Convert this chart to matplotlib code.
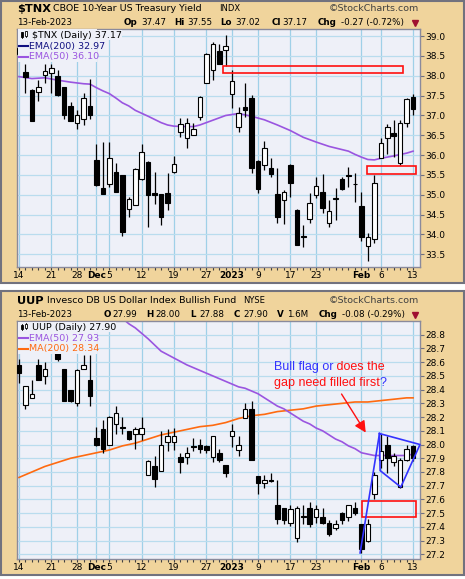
import numpy as np
import matplotlib
matplotlib.use("Agg")
import matplotlib.pyplot as plt
from matplotlib.patches import Rectangle
from matplotlib.lines import Line2D

# --- data (trading-day index 0 = 14 Nov 2022) ---
TICK_POS = [0, 5, 9, 12, 14, 19, 24, 29, 33, 37, 42, 46, 53, 56, 61]
TICK_LABELS = ['14', '21', '28', 'Dec', '5', '12', '19', '27', '2023', '9', '17', '23', 'Feb', '6', '13']
BOLD_TICKS = ['Dec', '2023', 'Feb']

# $TNX daily OHLC (x10 yield)
tnx_open = [38.55, 38.10, 37.64, 37.58, 38.01, 38.08, 37.99, 37.71, 37.24, 36.80,
            36.90, 37.24, 35.89, 35.16, 35.27, 35.57, 35.49, 34.63, 34.75, 35.39,
            35.83, 35.04, 35.02, 35.04, 35.57, 36.59, 36.42, 36.51, 36.95, 37.83,
            38.14, 38.63, 38.65, 37.54, 36.72, 37.22, 37.43, 35.85, 35.75, 35.67,
            35.02, 34.87, 35.75, 34.62, 33.95, 34.38, 34.99, 35.08, 34.30, 34.89,
            35.41, 35.48, 35.27, 34.72, 33.71, 33.88, 35.94, 36.42, 36.55, 35.81,
            36.82, 37.47]
tnx_high = [38.80, 38.31, 37.66, 37.89, 38.31, 38.31, 38.14, 37.72, 37.35, 37.14,
            37.56, 37.93, 36.28, 36.34, 36.34, 35.79, 35.50, 34.95, 35.67, 36.28,
            35.84, 35.57, 35.03, 35.54, 35.98, 36.93, 36.93, 36.80, 37.50, 38.57,
            38.86, 38.80, 39.03, 38.14, 37.22, 37.81, 37.51, 35.88, 36.36, 35.92,
            35.67, 35.12, 35.78, 34.63, 34.24, 35.04, 35.46, 35.52, 34.87, 35.16,
            35.46, 35.69, 35.54, 35.08, 34.03, 35.50, 36.42, 36.78, 36.88, 36.88,
            37.43, 37.55]
tnx_low = [38.45, 37.56, 36.85, 37.37, 37.81, 37.57, 37.50, 36.90, 36.86, 36.65,
           36.76, 36.90, 35.22, 35.01, 35.20, 35.07, 33.97, 34.45, 34.74, 35.38,
           34.20, 34.77, 34.24, 34.62, 35.56, 36.46, 36.17, 36.50, 36.88, 37.82,
           37.89, 38.30, 38.25, 37.20, 36.59, 36.97, 35.54, 35.04, 35.62, 35.46,
           34.28, 34.26, 34.94, 33.73, 33.69, 34.30, 34.91, 34.55, 34.18, 34.37,
           35.13, 35.20, 34.83, 33.84, 33.32, 33.78, 35.93, 36.03, 35.96, 35.75,
           36.70, 37.02]
tnx_close = [38.70, 37.98, 36.87, 37.71, 38.13, 38.20, 37.51, 37.01, 36.87, 37.00,
             37.43, 37.00, 35.25, 35.02, 35.94, 35.08, 34.05, 34.89, 35.65, 36.07,
             34.99, 34.99, 34.45, 34.79, 35.77, 36.78, 36.80, 36.65, 37.47, 38.56,
             38.80, 38.31, 38.75, 37.87, 37.05, 37.15, 35.67, 35.14, 36.17, 35.52,
             34.45, 35.08, 35.31, 33.74, 33.94, 34.80, 35.22, 34.66, 34.58, 34.90,
             35.14, 35.47, 35.26, 33.93, 33.93, 35.31, 36.30, 36.70, 36.48, 36.80,
             37.41, 37.17]
tnx_ema50_x = [0, 2, 4, 6, 8, 10, 11, 12, 13, 14, 15, 16, 17, 18, 20, 22, 23, 24, 26,
               27, 28, 30, 32, 34, 36, 38, 40, 42, 44, 46, 48, 50, 51, 52, 53, 54,
               55, 56, 58, 60, 61]
tnx_ema50 = [37.98, 37.93, 37.95, 37.89, 37.84, 37.80, 37.79, 37.70, 37.62, 37.55,
             37.44, 37.32, 37.24, 37.13, 36.98, 36.82, 36.76, 36.73, 36.72, 36.72,
             36.76, 36.88, 37.00, 37.05, 36.98, 36.89, 36.76, 36.62, 36.45, 36.33,
             36.22, 36.14, 36.10, 36.02, 35.95, 35.89, 35.88, 35.92, 35.98, 36.05,
             36.10]

# UUP daily OHLC
uup_open = [28.58, 28.29, 28.34, 28.58, 28.50, 28.80, 28.70, 28.55, 28.40, 28.30,
            28.55, 28.47, 28.05, 28.11, 28.00, 28.15, 28.13, 28.10, 28.08, 28.08,
            27.78, 27.84, 27.81, 28.02, 28.02, 27.91, 27.91, 27.99, 28.00, 27.99,
            27.91, 27.94, 27.85, 28.06, 27.96, 28.19, 28.26, 27.77, 27.72, 27.745,
            27.56, 27.54, 27.43, 27.32, 27.48, 27.54, 27.47, 27.475, 27.43, 27.39,
            27.50, 27.47, 27.535, 27.42, 27.30, 27.64, 27.89, 28.00, 27.875, 27.69,
            27.89, 27.99]
uup_high = [28.62, 28.43, 28.47, 28.62, 28.60, 28.85, 28.72, 28.55, 28.40, 28.55,
            28.65, 28.65, 28.13, 28.18, 28.21, 28.28, 28.20, 28.10, 28.13, 28.20,
            27.89, 27.92, 28.10, 28.11, 28.12, 27.94, 27.98, 28.05, 28.04, 28.00,
            28.06, 27.97, 27.85, 28.15, 28.06, 28.30, 28.32, 27.77, 27.78, 27.79,
            27.74, 27.54, 27.56, 27.55, 27.56, 27.58, 27.56, 27.54, 27.45, 27.45,
            27.51, 27.56, 27.58, 27.42, 27.46, 27.80, 28.08, 28.06, 27.94, 27.90,
            28.00, 28.00]
uup_low = [28.45, 28.26, 28.34, 28.47, 28.44, 28.70, 28.61, 28.32, 28.31, 28.28,
           28.55, 28.28, 27.99, 27.94, 28.00, 28.08, 28.08, 28.03, 27.97, 28.03,
           27.78, 27.69, 27.81, 27.95, 27.96, 27.79, 27.86, 27.95, 27.94, 27.94,
           27.87, 27.87, 27.76, 27.98, 27.92, 28.19, 27.89, 27.64, 27.68, 27.73,
           27.42, 27.42, 27.41, 27.29, 27.42, 27.40, 27.43, 27.42, 27.33, 27.38,
           27.42, 27.44, 27.49, 27.21, 27.29, 27.60, 27.83, 27.79, 27.84, 27.68,
           27.88, 27.88]
uup_close = [28.52, 28.43, 28.37, 28.47, 28.55, 28.72, 28.62, 28.32, 28.32, 28.54,
             28.58, 28.35, 28.00, 27.97, 28.20, 28.23, 28.12, 28.04, 28.11, 28.12,
             27.88, 27.75, 28.00, 28.06, 28.06, 27.87, 27.94, 27.98, 27.97, 27.96,
             28.06, 27.89, 27.79, 28.10, 28.00, 28.26, 27.89, 27.72, 27.74, 27.735,
             27.46, 27.45, 27.53, 27.535, 27.47, 27.42, 27.53, 27.43, 27.35, 27.42,
             27.45, 27.56, 27.50, 27.24, 27.42, 27.78, 27.95, 27.90, 27.92, 27.89,
             27.97, 27.90]
uup_ma200_x = [0, 2, 4, 6, 8, 10, 12, 14, 16, 18, 20, 22, 24, 26, 28, 30, 32, 34, 36,
               38, 40, 42, 44, 46, 48, 50, 52, 54, 56, 58, 60, 61]
uup_ma200 = [27.76, 27.80, 27.84, 27.87, 27.90, 27.92, 27.94, 27.96, 27.99, 28.01,
             28.04, 28.07, 28.09, 28.11, 28.13, 28.14, 28.16, 28.19, 28.21, 28.22,
             28.24, 28.25, 28.26, 28.28, 28.29, 28.30, 28.31, 28.31, 28.32, 28.33,
             28.34, 28.34]
uup_ema50_x = [0, 5, 10, 15, 16, 17, 18, 19, 20, 22, 24, 26, 28, 30, 32, 34, 35, 36,
               37, 38, 39, 40, 41, 42, 43, 44, 45, 46, 47, 48, 49, 50, 51, 52, 53,
               54, 55, 56, 58, 60, 61]
uup_ema50 = [29.30, 29.20, 29.06, 28.95, 28.92, 28.88, 28.85, 28.81, 28.77, 28.68,
             28.63, 28.58, 28.54, 28.50, 28.46, 28.42, 28.41, 28.39, 28.37, 28.34,
             28.31, 28.28, 28.26, 28.23, 28.20, 28.17, 28.15, 28.12, 28.10, 28.07,
             28.04, 28.02, 27.99, 27.97, 27.94, 27.93, 27.92, 27.92, 27.92, 27.92,
             27.93]

# hand-drawn annotations (x in trading-day index, y in price)
tnx_boxes = [(31.6, 59.5, 38.06, 38.24), (53.8, 61.4, 35.52, 35.73)]
uup_box = (53.1, 61.4, 27.47, 27.59)
flag_pole_x = [52.8, 55.8]
flag_pole_y = [27.21, 28.08]
flag_x = [55.8, 62.07, 59.1, 55.9, 55.8]
flag_y = [28.08, 28.00, 27.69, 27.81, 28.08]
arrow_from = (49.7, 28.385)
arrow_to = (53.9, 28.07)

# --- styling ---
W, H = 465, 579
TAN = '#f0d49c'
BORDER = '#72727e'
PLOT_BG = '#eef0f8'
VGRID = '#9fd0e8'
HGRID = '#b9dcee'
PURPLE = '#9a55e0'
ORANGE = '#ff6a10'
NAVY = '#101080'
RED = '#ff1010'
BLUE = '#3333ff'

plt.rcParams['font.family'] = 'DejaVu Sans'


def fx(x):
    return x / W


def fy(y):
    return 1 - y / H


def candles(ax, o, h, l, c, minh):
    x = np.arange(len(o))
    o, h, l, c = map(np.asarray, (o, h, l, c))
    ax.vlines(x, l, h, color='black', lw=0.9, zorder=3)
    up = c > o
    bottom = np.minimum(o, c)
    height = np.maximum(np.abs(c - o), minh)
    ax.bar(x, height, width=0.7, bottom=bottom, color=np.where(up, 'white', 'black'),
           edgecolor='black', lw=0.8, zorder=4)


def setup_axes(ax, ylo, yhi, yticks):
    ax.set_facecolor(PLOT_BG)
    ax.set_xlim(-0.3, 62.07)
    ax.set_ylim(ylo, yhi)
    for t in TICK_POS:
        ax.axvline(t, color=VGRID, lw=0.9, zorder=1)
    for t in yticks:
        ax.axhline(t, color=HGRID, lw=0.9, zorder=1)
    ax.yaxis.tick_right()
    ax.set_yticks(yticks)
    ax.set_yticklabels([f'{t:.1f}' for t in yticks], fontsize=6.5)
    ax.tick_params(axis='y', length=3, width=0.8, color='#707080', pad=1)
    ax.set_xticks(TICK_POS)
    ax.set_xticklabels(TICK_LABELS, fontsize=6.5)
    for lab in ax.get_xticklabels():
        if lab.get_text() in BOLD_TICKS:
            lab.set_fontweight('bold')
    ax.set_xticks(np.arange(0, 62), minor=True)
    ax.tick_params(axis='x', which='both', length=2, width=0.8, color='#404040', pad=1)
    for s in ax.spines.values():
        s.set_color('#8a8a9c')
        s.set_linewidth(1.0)


sym_name_x = {'$TNX': 53.3, 'UUP': 46.7}
exch_x = {'$TNX': 219.3, 'UUP': 243.3}


def header(fig, y1, y2, sym, name, exch, items):
    fig.text(fx(16.7), fy(y1), sym, fontsize=8.2, fontweight='bold', va='center')
    fig.text(fx(sym_name_x[sym]), fy(y1), name, fontsize=6.8, va='center')
    fig.text(fx(exch_x[sym]), fy(y1), exch, fontsize=6.0, va='center')
    fig.text(fx(419), fy(y1), '\u00a9StockCharts.com', fontsize=6.8, va='center',
             ha='right', color='#404040')
    fig.text(fx(16.7), fy(y2), '13-Feb-2023', fontsize=6.3, va='center')
    for txt, x, bold in items:
        fig.text(fx(x), fy(y2), txt, fontsize=6.3, va='center',
                 fontweight='bold' if bold else 'normal')
    fig.add_artist(Line2D([fx(415)], [fy(y2 + 0.5)], marker='v', ms=4.5,
                          color='#a01030', transform=fig.transFigure))


tnx_items = [('Op', 124, True), ('37.47', 141.7, False), ('Hi', 174, True),
             ('37.55', 187.3, False), ('Lo', 220.7, True), ('37.02', 235, False),
             ('Cl', 271.7, True), ('37.17', 282.7, False), ('Chg', 317.3, True),
             ('-0.27 (-0.72%)', 340.7, False)]
uup_items = [('O', 103.3, True), ('27.99', 112.7, False), ('H', 146.7, True),
             ('28.00', 155, False), ('L', 190, True), ('27.88', 199.3, False),
             ('C', 233.3, True), ('27.90', 243.3, False), ('V', 276.7, True),
             ('1.6M', 286.7, False), ('Chg', 318.3, True), ('-0.08 (-0.29%)', 341.7, False)]


def candle_icon(fig, x, y):
    # tiny two-candle glyph in front of the legend title
    for dx, fc, y0, hgt in [(0, 'black', y - 2.5, 4.5), (4, 'white', y - 3.5, 4.5)]:
        fig.add_artist(Line2D([fx(x + dx + 1)] * 2, [fy(y0 + hgt + 1), fy(y0 - 1)], color='black',
                              lw=0.6, transform=fig.transFigure, zorder=7))
        fig.add_artist(Rectangle((fx(x + dx), fy(y0 + hgt)), 2 / W, hgt / H,
                                 transform=fig.transFigure, facecolor=fc,
                                 edgecolor='black', lw=0.6, zorder=8))


def legend(fig, top_px, bot_px, lines):
    # opaque legend area, hides the grid and anything under it
    fig.add_artist(Rectangle((fx(17.5), fy(bot_px)), (97 - 17.5) / W, (bot_px - top_px) / H,
                             transform=fig.transFigure, facecolor=PLOT_BG,
                             edgecolor='none', zorder=5))
    y = top_px + 5.5
    for i, (txt, col) in enumerate(lines):
        if i == 0:
            candle_icon(fig, 21, y)
            fig.text(fx(31.7), fy(y), txt, fontsize=6.8, va='center', zorder=7,
                     bbox=dict(facecolor=PLOT_BG, edgecolor='none', pad=0.3))
        else:
            fig.add_artist(Line2D([fx(19), fx(28)], [fy(y), fy(y)], color=col, lw=1.5,
                                  transform=fig.transFigure, zorder=7))
            fig.text(fx(29.3), fy(y), txt, fontsize=6.8, va='center', color=col, zorder=7)
        y += 11


fig = plt.figure(figsize=(W / 100, H / 100), dpi=100)
fig.patch.set_facecolor('white')
fig.add_artist(Rectangle((fx(0.75), fy(283)), 463.5 / W, 282.25 / H, transform=fig.transFigure,
                         facecolor=TAN, edgecolor=BORDER, lw=1.5, zorder=0))
fig.add_artist(Rectangle((fx(0.75), fy(575)), 463.5 / W, 284 / H, transform=fig.transFigure,
                         facecolor=TAN, edgecolor=BORDER, lw=1.5, zorder=0))

# --- $TNX panel ---
ax1 = fig.add_axes([fx(17), fy(267), 403 / W, 238 / H])
setup_axes(ax1, 33.18, 39.18, np.arange(33.5, 39.01, 0.5))
candles(ax1, tnx_open, tnx_high, tnx_low, tnx_close, 0.02)
ax1.plot(tnx_ema50_x, tnx_ema50, color=PURPLE, lw=1.2, zorder=2)
for x0, x1, y0, y1 in tnx_boxes:
    ax1.add_patch(Rectangle((x0, y0), x1 - x0, y1 - y0, fill=False, edgecolor=RED,
                            lw=1.2, zorder=6))
header(fig, 8.5, 22.7, '$TNX', 'CBOE 10-Year US Treasury Yield', 'INDX', tnx_items)
legend(fig, 29.5, 62, [('$TNX (Daily) 37.17', 'black'), ('EMA(200) 32.97', NAVY),
                       ('EMA(50) 36.10', PURPLE)])

# --- UUP panel ---
ax2 = fig.add_axes([fx(17), fy(559), 403 / W, 238 / H])
setup_axes(ax2, 27.166, 28.90, np.round(np.arange(27.2, 28.81, 0.1), 1))
candles(ax2, uup_open, uup_high, uup_low, uup_close, 0.004)
ax2.plot(uup_ma200_x, uup_ma200, color=ORANGE, lw=1.2, zorder=2)
ax2.plot(uup_ema50_x, uup_ema50, color=PURPLE, lw=1.2, zorder=2)
x0, x1, y0, y1 = uup_box
ax2.add_patch(Rectangle((x0, y0), x1 - x0, y1 - y0, fill=False, edgecolor=RED, lw=1.2, zorder=6))
ax2.plot(flag_pole_x, flag_pole_y, color=BLUE, lw=1.2, zorder=6)
ax2.plot(flag_x, flag_y, color=BLUE, lw=1.2, zorder=6, clip_on=False)
ax2.annotate('', xy=arrow_to, xytext=arrow_from,
             arrowprops=dict(arrowstyle='-|>', color=RED, lw=1.0, mutation_scale=17), zorder=6)
afont = dict(fontsize=9, family='Liberation Sans', va='bottom', ha='left')
t1 = ax2.text(39.4, 28.52, 'Bull flag or', color=BLUE, **afont)
ax2.annotate(' does the', xy=(1, 0), xycoords=t1, color=RED, **afont)
t2 = ax2.text(39.4, 28.405, 'gap need filled first', color=RED, **afont)
ax2.annotate('?', xy=(1, 0), xycoords=t2, color=BLUE, **afont)
header(fig, 300.7, 314.3, 'UUP', 'Invesco DB US Dollar Index Bullish Fund', 'NYSE', uup_items)
legend(fig, 321.5, 354, [('UUP (Daily) 27.90', 'black'), ('EMA(50) 27.93', PURPLE),
                         ('MA(200) 28.34', ORANGE)])

fig.savefig('out.png', dpi=100)
